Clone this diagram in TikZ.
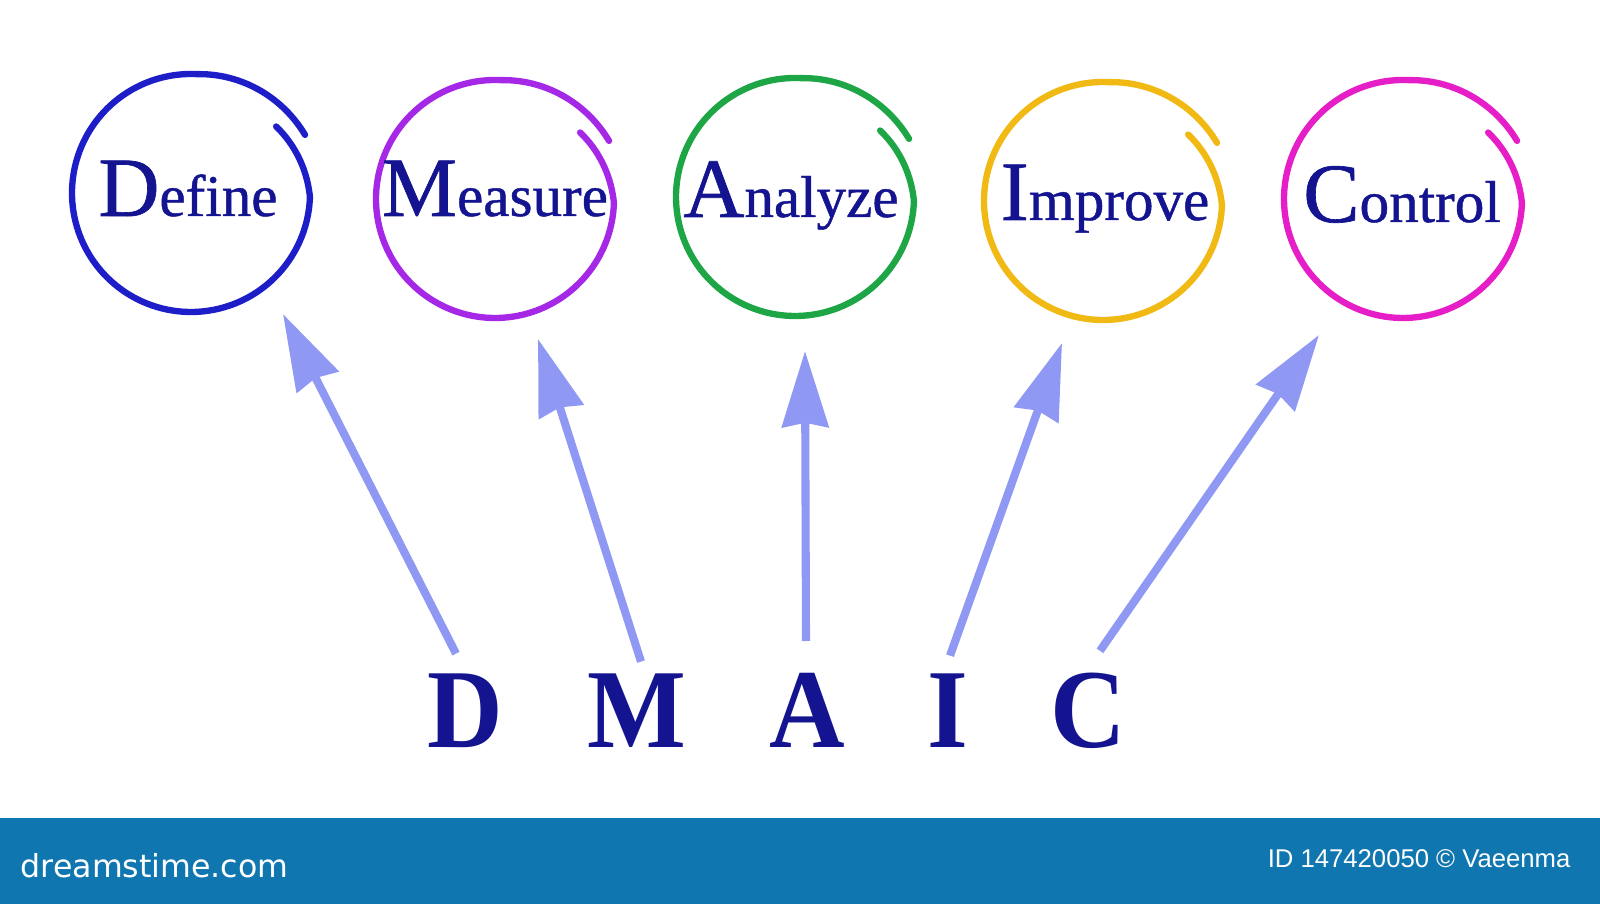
\documentclass[tikz,border=0pt]{standalone}
\usepackage{fontspec}
\usepackage{tikz}
\usetikzlibrary{positioning,arrows.meta}
\newfontfamily\wordfont[FakeBold=0.8]{Liberation Serif}
\newfontfamily\capfont[FakeStretch=0.93]{Liberation Serif}
\newfontfamily\logofont{DejaVu Sans}
\newfontfamily\idfont{Liberation Sans}
\definecolor{colortext}   {RGB}{20 ,20 ,145}
\definecolor{colordefine} {RGB}{30 ,30 ,200}
\definecolor{colormeasure}{RGB}{165,40 ,230}
\definecolor{coloranalyze}{RGB}{30 ,165,70 }
\definecolor{colorimprove}{RGB}{240,185,20 }
\definecolor{colorcontrol}{RGB}{230,30 ,200}
\definecolor{colorarrow}  {RGB}{143,152,242}
\definecolor{colorbar}    {RGB}{16 ,118,176}
\newcommand{\initial}[1]{{\fontsize{24}{28}\selectfont #1}}

\begin{document}
\begin{tikzpicture}[
    x=0.01cm, y=-0.01cm,
    declare function={ringr(\s)=108+11*min(\s,40)/40+9*max(\s-311,0)/60;},
    word/.style={text=colortext,font={\wordfont\fontsize{16.8}{20}\selectfont},inner sep=0pt,anchor=base},
    letter/.style={text=colortext,font={\capfont\bfseries\fontsize{32}{36}\selectfont},inner sep=0pt,anchor=base},
    ring/.style={line width=1.8pt,line cap=round,smooth},
    pointer/.style={draw=colorarrow,line width=2.3pt,-{Stealth[length=21.6pt,width=13.1pt,inset=1.2pt]}},
    credit/.style={text=white,inner sep=0pt,anchor=base},
]
    \useasboundingbox (0,0) rectangle (1600,904);

    % Rings
    \draw[ring,colordefine]  plot[domain=0:371,samples=150] ({191+ringr(\x)*cos(38-\x)},{193-ringr(\x)*sin(38-\x)});
    \draw[ring,colormeasure] plot[domain=0:371,samples=150] ({495+ringr(\x)*cos(38-\x)},{199-ringr(\x)*sin(38-\x)});
    \draw[ring,coloranalyze] plot[domain=0:371,samples=150] ({795+ringr(\x)*cos(38-\x)},{197-ringr(\x)*sin(38-\x)});
    \draw[ring,colorimprove] plot[domain=0:371,samples=150] ({1103+ringr(\x)*cos(38-\x)},{201-ringr(\x)*sin(38-\x)});
    \draw[ring,colorcontrol] plot[domain=0:371,samples=150] ({1403+ringr(\x)*cos(38-\x)},{199-ringr(\x)*sin(38-\x)});

    % Words
    \node[word] (define)  at (188,216)  {\initial{D}efine};
    \node[word] (measure) at (495,216)  {\initial{M}easure};
    \node[word] (analyze) at (791,217)  {\initial{A}nalyze};
    \node[word] (improve) at (1105,220) {\initial{I}mprove};
    \node[word] (control) at (1402,222) {\initial{C}ontrol};

    % Letters
    \node[letter] (lD) at (465,748)  {D};
    \node[letter] (lM) at (637,748)  {M};
    \node[letter] (lA) at (807,748)  {A};
    \node[letter] (lI) at (948,748)  {I};
    \node[letter] (lC) at (1088,748) {C};

    % Arrows
    \coordinate (tipD) at (283,314);
    \coordinate (tipM) at (538,339);
    \coordinate (tipA) at (805,351);
    \coordinate (tipI) at (1062,343);
    \coordinate (tipC) at (1319,335);
    \draw[pointer] ([shift={(-9,-20)}]lD.north) -- (tipD);
    \draw[pointer] ([shift={(4,-12)}]lM.north)  -- (tipM);
    \draw[pointer] ([shift={(-1,-32)}]lA.north) -- (tipA);
    \draw[pointer] ([shift={(2,-18)}]lI.north)  -- (tipI);
    \draw[pointer] ([shift={(12,-22)}]lC.north) -- (tipC);

    % Bar
    \fill[colorbar] (0,818) rectangle (1600,904);
    \node[credit,anchor=base west] (logo) at (20,878)
        {\logofont\fontsize{9}{11}\selectfont dreamstime.com};
    \node[credit,anchor=base east] (stockid) at (1571,868)
        {\idfont\fontsize{7.3}{9}\selectfont ID 147420050 © Vaeenma};

\end{tikzpicture}
\end{document}
